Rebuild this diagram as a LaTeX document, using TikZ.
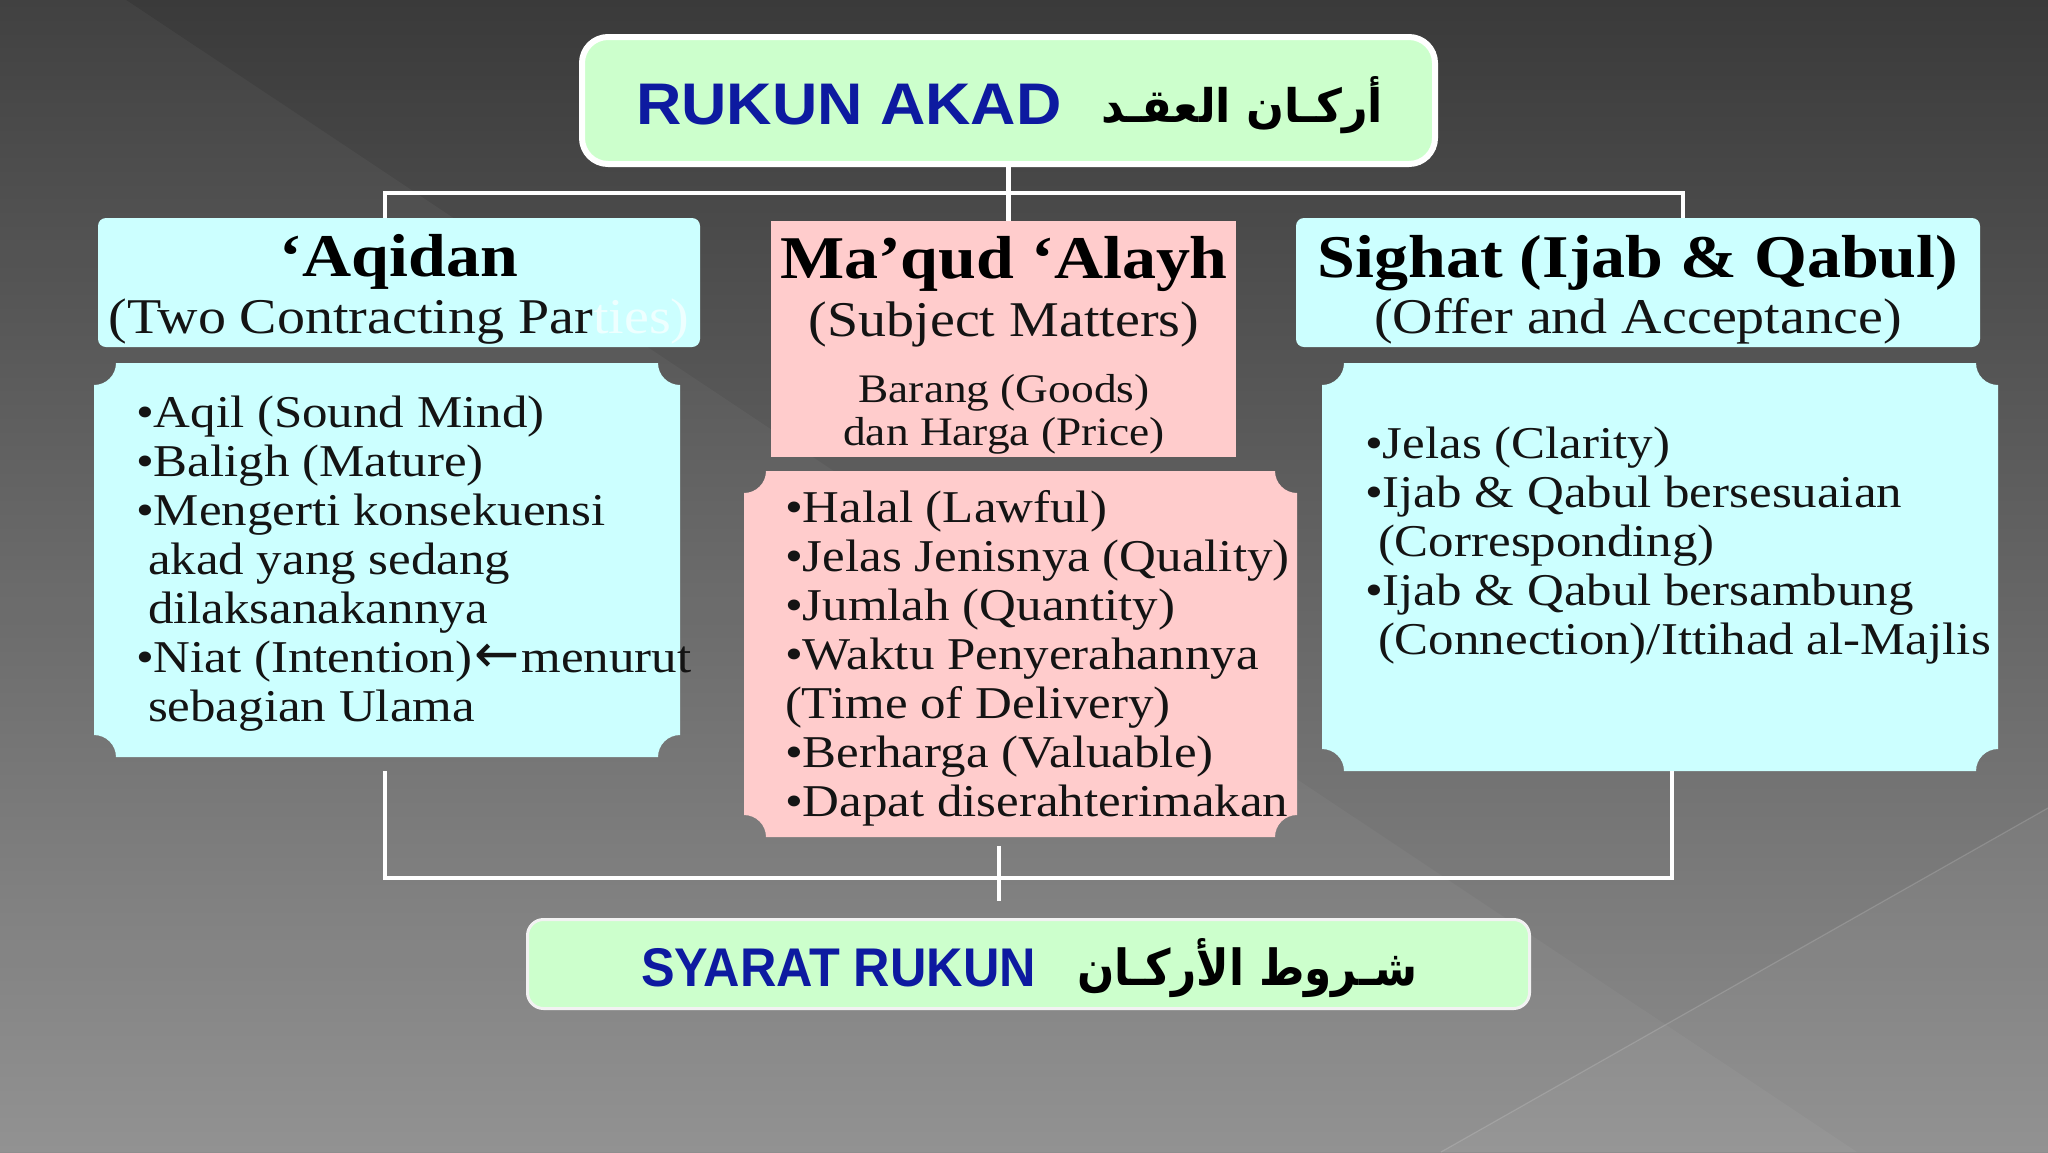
\documentclass[tikz,border=0pt]{standalone}
\usepackage{graphicx}
\usepackage{fontspec}
\setmainfont{Liberation Serif}[FakeStretch=1.12]
\newfontfamily\lsans{Liberation Sans}
\newfontfamily\djv{DejaVu Sans}
\newfontfamily\arab[Script=Arabic]{DejaVu Sans}
\TeXXeTstate=1
\usetikzlibrary{calc}
\definecolor{bgtop}{HTML}{3A3A3A}
\definecolor{bgbot}{HTML}{8E8E8E}
\definecolor{grn}{HTML}{CCFFCC}
\definecolor{cyn}{HTML}{CCFFFF}
\definecolor{pnk}{HTML}{FFCCCC}
\definecolor{tblue}{HTML}{0D1AA0}
\definecolor{ink}{HTML}{141414}
\definecolor{faint}{HTML}{EEFFFF}
\newcommand\fhdr{\fontsize{60.7}{70}\selectfont\bfseries}
\newcommand\fsub{\fontsize{50}{56}\selectfont}
\newcommand\fsmall{\fontsize{40.5}{45}\selectfont}
\newcommand\fbody{\fontsize{45.5}{49}\selectfont}
\newcommand\plaqueshape[5]{\fill[#5] (#1+22,#2) -- (#3-22,#2) arc[start angle=180,end angle=90,radius=22] -- (#3,#4-22) arc[start angle=270,end angle=180,radius=22] -- (#1+22,#4) arc[start angle=0,end angle=-90,radius=22] -- (#1,#2+22) arc[start angle=90,end angle=0,radius=22] -- cycle;}
\tikzset{
  conn/.style={draw=white, line width=4.5pt},
  topbox/.style={draw=white, line width=6pt, fill=grn, rounded corners=26pt, inner sep=0pt},
  botbox/.style={draw=white!90!gray, line width=3pt, fill=grn, rounded corners=16pt, inner sep=0pt},
  hdrbox/.style={fill=cyn, rounded corners=8pt, inner sep=0pt},
  mhdrbox/.style={fill=pnk, inner sep=0pt},
  bodynode/.style={inner sep=0pt, draw=none},
  txt/.style={inner sep=0pt, outer sep=0pt, text=ink},
}
\begin{document}
\begin{tikzpicture}[x=1pt,y=-1pt]
\useasboundingbox (0,0) rectangle (2048,1152);
% background
\shade[top color=bgtop, bottom color=bgbot] (0,0) rectangle (2048,1152);
\fill[white, opacity=0.04] (0,0) -- (126,0) -- (1857,1152) -- (0,1152) -- cycle;
\fill[white, opacity=0.04] (2048,808) -- (2048,1152) -- (1441,1152) -- cycle;
\draw[white, opacity=0.15, line width=1.2pt] (2048,808) -- (1441,1152);

% boxes
\node[topbox, minimum width=853pt, minimum height=127pt] (rukun) at (1008.5,100.5) {};
\node[botbox, minimum width=1002pt, minimum height=89pt] (syarat) at (1028.5,964) {};
\node[hdrbox, minimum width=602pt, minimum height=129pt] (aqH) at (399,282.5) {};
\node[mhdrbox, minimum width=465pt, minimum height=236pt] (mqH) at (1003.5,339) {};
\node[hdrbox, minimum width=684pt, minimum height=129pt] (sgH) at (1638,282.5) {};
\plaqueshape{94}{363}{680}{757}{cyn}
\plaqueshape{744}{471}{1297}{837}{pnk}
\plaqueshape{1322}{363}{1998}{771}{cyn}
\node[bodynode, minimum width=586pt, minimum height=394pt] (aqB) at (387,560) {};
\node[bodynode, minimum width=553pt, minimum height=366pt] (mqB) at (1020.5,654) {};
\node[bodynode, minimum width=676pt, minimum height=408pt] (sgB) at (1660,567) {};

% connectors
\coordinate (tl) at (385,193);
\coordinate (tr) at (1683,193);
\draw[conn] (rukun.south) -- (rukun.south |- mqH.north);
\draw[conn] (aqH.north -| tl) -- (tl) -- (tr) -- (sgH.north -| tr);
\coordinate (bl1) at (385,771);
\coordinate (bl2) at (385,878);
\coordinate (br1) at (1672,771);
\coordinate (br2) at (1672,878);
\coordinate (bm1) at (999,846);
\coordinate (bm2) at (999,901);
\draw[conn] (bl1) -- (bl2) -- (br2) -- (br1);
\draw[conn] (bm1) -- (bm2);

% title texts
\node[txt, anchor=base west] (rukunLat) at (636,124) {\lsans\bfseries\fontsize{58.7}{64}\selectfont\color{tblue}\scalebox{1.07}[1]{RUKUN AKAD}};
\node[txt, anchor=base east, text=black] (rukunAr) at (1383,122) {\resizebox{282pt}{46pt}{\arab\bfseries\fontsize{50}{60}\selectfont\beginR أركـان العقـد\endR}};
\node[txt, anchor=base west] (syLat) at (641,986) {\lsans\bfseries\fontsize{54.5}{60}\selectfont\color{tblue}\scalebox{0.925}[1]{SYARAT RUKUN}};
\node[txt, anchor=base east, text=black] (syAr) at (1417,985) {\resizebox{340pt}{47pt}{\arab\bfseries\fontsize{50}{60}\selectfont\beginR شـروط الأركـان\endR}};

% header texts
\node[txt, anchor=base, font=\fhdr, text=black] (aqT1) at (399,276) {‘Aqidan};
\node[txt, anchor=base, font=\fsub] (aqT2) at (399,333) {(Two Contracting Par\textcolor{faint}{ties)}};
\node[txt, anchor=base, font=\fhdr, text=black] (mqT1) at (1004,278) {Ma’qud ‘Alayh};
\node[txt, anchor=base, font=\fsub] (mqT2) at (1004,336) {(Subject Matters)};
\node[txt, anchor=base, font=\fsmall] (mqT3) at (1004,402) {Barang (Goods)};
\node[txt, anchor=base, font=\fsmall] (mqT4) at (1004,445) {dan Harga (Price)};
\node[txt, anchor=base, font=\fhdr, text=black] (sgT1) at (1638,277) {Sighat (Ijab \& Qabul)};
\node[txt, anchor=base, font=\fsub] (sgT2) at (1638,333) {(Offer and Acceptance)};

% left list
\node[txt, anchor=base west, font=\fbody] (aqL1) at (136,427) {•Aqil (Sound Mind)};
\node[txt, anchor=base west, font=\fbody] (aqL2) at (136,476) {•Baligh (Mature)};
\node[txt, anchor=base west, font=\fbody] (aqL3) at (136,525) {•Mengerti konsekuensi};
\node[txt, anchor=base west, font=\fbody] (aqL4) at (148,574) {akad yang sedang};
\node[txt, anchor=base west, font=\fbody] (aqL5) at (148,623) {dilaksanakannya};
\node[txt, anchor=base west, font=\fbody] (aqL6) at (136,672) {•Niat (Intention)\kern2pt{\djv\fontsize{54}{49}\selectfont ←}\kern2pt menurut};
\node[txt, anchor=base west, font=\fbody] (aqL7) at (148,721) {sebagian Ulama};

% middle list
\node[txt, anchor=base west, font=\fbody] (mqL1) at (785,522) {•Halal (Lawful)};
\node[txt, anchor=base west, font=\fbody] (mqL2) at (785,571) {•Jelas Jenisnya (Quality)};
\node[txt, anchor=base west, font=\fbody] (mqL3) at (785,620) {•Jumlah (Quantity)};
\node[txt, anchor=base west, font=\fbody] (mqL4) at (785,669) {•Waktu Penyerahannya};
\node[txt, anchor=base west, font=\fbody] (mqL5) at (785,718) {(Time of Delivery)};
\node[txt, anchor=base west, font=\fbody] (mqL6) at (785,767) {•Berharga (Valuable)};
\node[txt, anchor=base west, font=\fbody] (mqL7) at (785,816) {•Dapat diserahterimakan};

% right list
\node[txt, anchor=base west, font=\fbody] (sgL1) at (1365,458) {•Jelas (Clarity)};
\node[txt, anchor=base west, font=\fbody] (sgL2) at (1365,507) {•Ijab \& Qabul bersesuaian};
\node[txt, anchor=base west, font=\fbody] (sgL3) at (1378,556) {(Corresponding)};
\node[txt, anchor=base west, font=\fbody] (sgL4) at (1365,605) {•Ijab \& Qabul bersambung};
\node[txt, anchor=base west, font=\fbody] (sgL5) at (1378,654) {(Connection)/Ittihad al-Majlis};
\end{tikzpicture}
\end{document}
